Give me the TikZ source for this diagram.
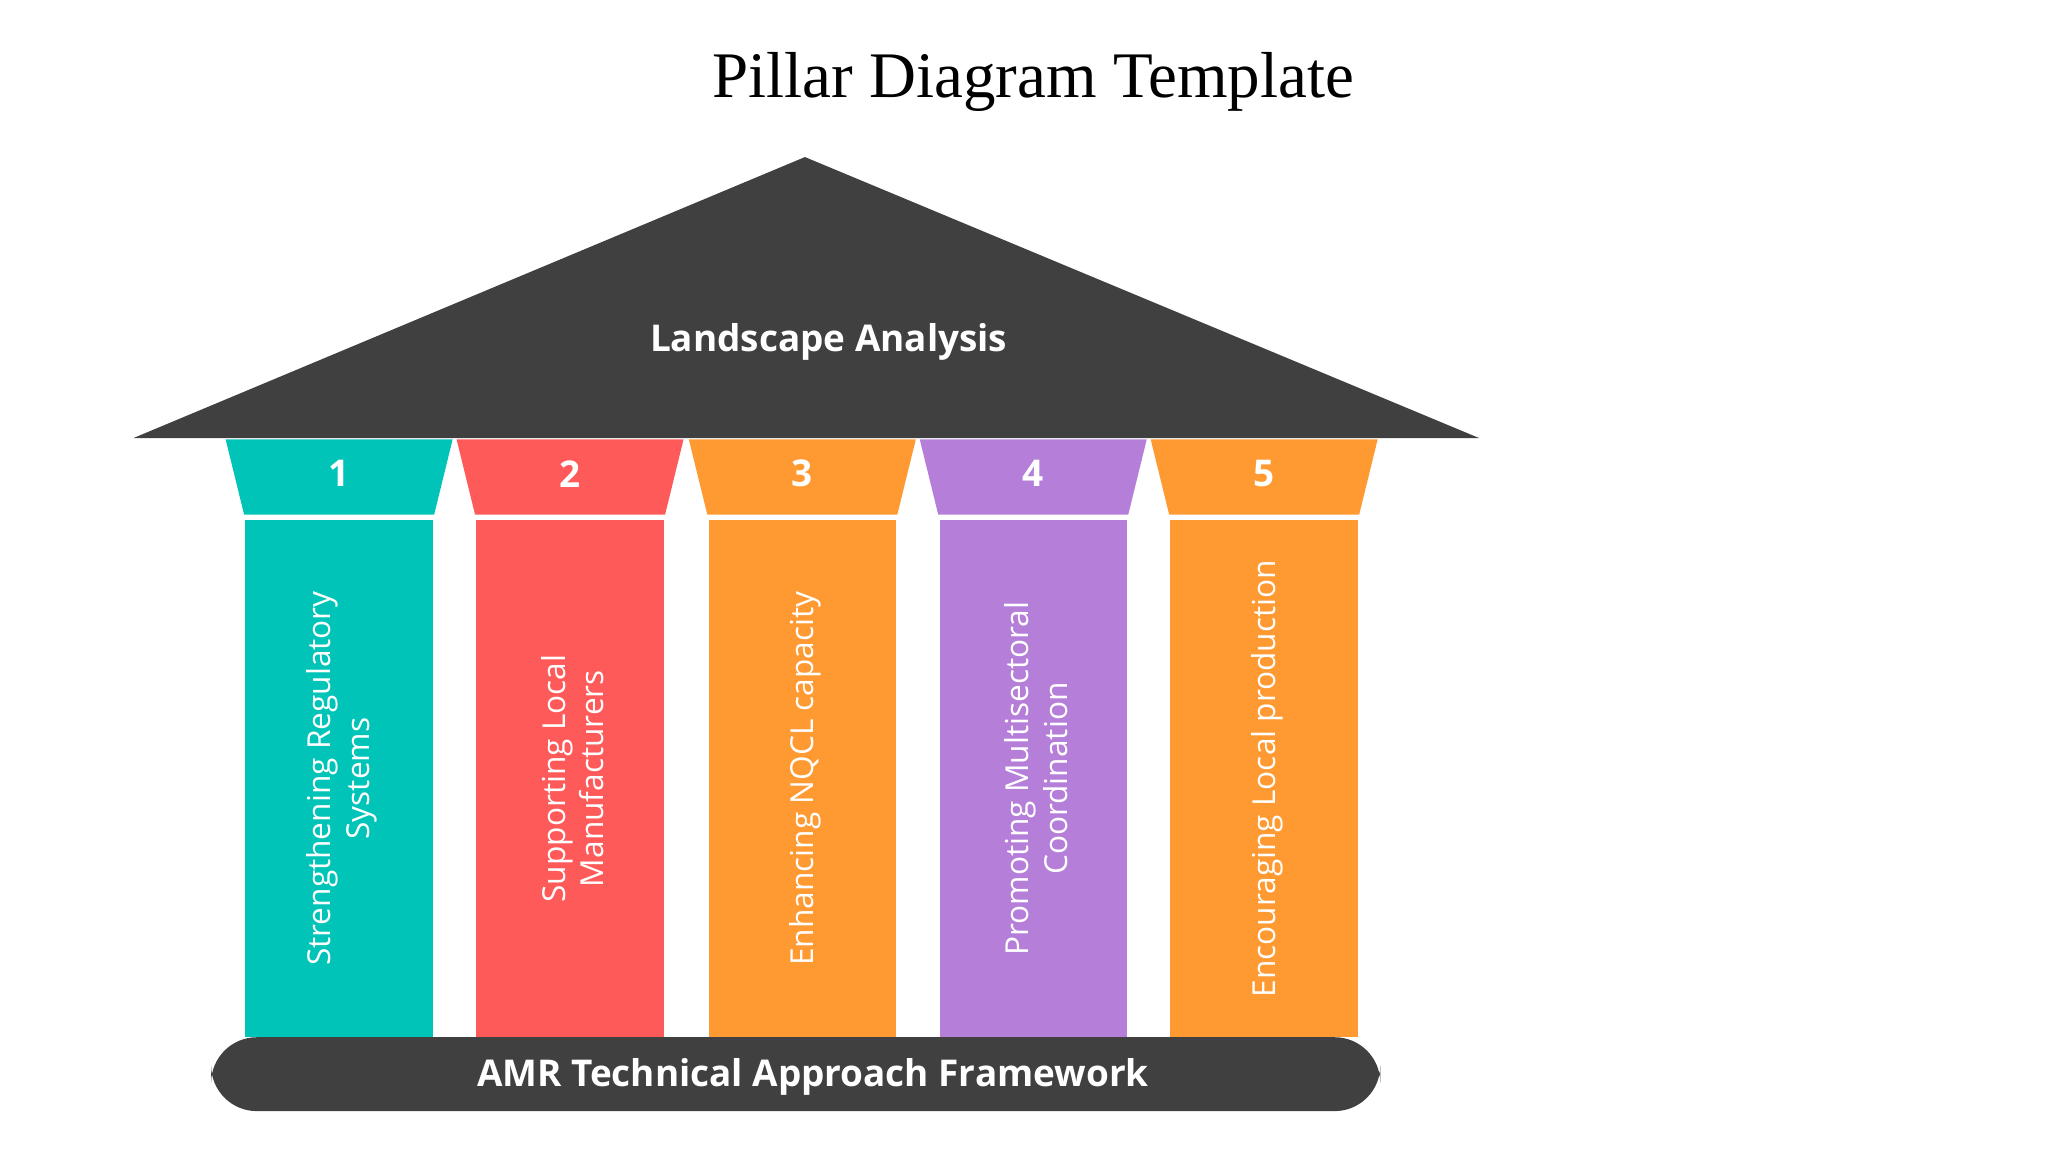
\documentclass[tikz,border=0pt]{standalone}
\usepackage{fontspec}
\setmainfont{Open Sans}
\newfontfamily\titlefont{Liberation Serif}
\definecolor{dark}{HTML}{404040}
\definecolor{cteal}{HTML}{00C4B8}
\definecolor{cred}{HTML}{FF5A5A}
\definecolor{corange}{HTML}{FF9A33}
\definecolor{cpurple}{HTML}{B57FD9}
\begin{document}
\begin{tikzpicture}[x=0.013196cm,y=-0.013196cm,
  lbl/.style={text=white,font=\fontsize{10.5}{12}\selectfont\bfseries},
  ptext/.style={text=white,rotate=90,align=center,font=\fontsize{9}{11}\selectfont}]
\useasboundingbox (0,0) rectangle (1552,873);
\node[font=\titlefont\fontsize{18.5}{22}\selectfont] (title) at (783,62) {Pillar Diagram Template};
\fill[dark] (610,119) -- (101,332) -- (1121,332) -- cycle;
\node[lbl] (roof) at (628,259) {Landscape Analysis};
\foreach \i/\x/\c/\t in {1/257/cteal/{Strengthening Regulatory\\Systems},
  2/432/cred/{Supporting Local\\Manufacturers},
  3/608/corange/{Enhancing NQCL capacity},
  4/783/cpurple/{Promoting Multisectoral\\Coordination},
  5/958/corange/{Encouraging Local production}}{
  \fill[\c] (\x-86,333) -- (\x+86,333) -- (\x+72,390) -- (\x-72,390) -- cycle;
  \fill[\c] (\x-71,394) rectangle (\x+71,786);
  \node[lbl] (n\i) at (\x,359) {\i};
  \node[ptext] (t\i) at (\x+2,590) {\t};
}
\fill[dark,rounded corners=13] (160,786) rectangle (1046,842);
\node[lbl] (base) at (616,816) {AMR Technical Approach Framework};
\end{tikzpicture}
\end{document}
